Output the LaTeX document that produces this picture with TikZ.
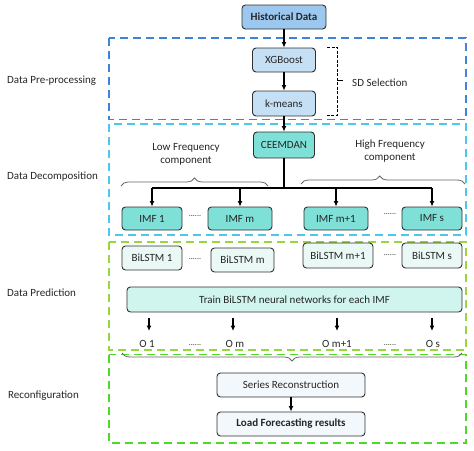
\documentclass[tikz,border=0pt]{standalone}
\usepackage{fontspec}
\setmainfont{Carlito}
\usetikzlibrary{arrows.meta,decorations.pathreplacing}
\definecolor{histblue}{HTML}{9CC8F0}
\definecolor{lightblue}{HTML}{C5E0F5}
\definecolor{teal1}{HTML}{7EE0D6}
\definecolor{bilstm}{HTML}{EAF8F6}
\definecolor{trainc}{HTML}{CFF5EE}
\definecolor{paleb}{HTML}{F2F8FC}
\definecolor{dashblue}{HTML}{3F82DC}
\definecolor{dashcyan}{HTML}{4FC6EE}
\definecolor{dashyg}{HTML}{96D640}
\definecolor{dashgreen}{HTML}{4ED82A}
\definecolor{edge}{HTML}{303030}
\tikzset{
  boxstyle/.style={draw=edge, line width=0.9pt, rounded corners=3.5pt, inner sep=0pt, font=\fontsize{11}{13}\selectfont, text=black!85},
  conn/.style={line width=1.1pt, -{Latex[length=5.5pt,width=5pt]}},
  plainline/.style={line width=1.1pt},
  dashframe/.style={line width=1.5pt, dash pattern=on 8pt off 5pt},
  sidelabel/.style={anchor=west, font=\fontsize{11}{13}\selectfont, text=black!85, inner sep=0pt},
  txt/.style={font=\fontsize{11}{13}\selectfont, text=black!85, inner sep=0pt, align=center},
  dotsty/.style={font=\fontsize{8}{9}\selectfont, text=black!85, inner sep=0pt},
  bracestyle/.style={draw=black!60, line width=0.8pt, decorate},
}
\begin{document}
\begin{tikzpicture}[x=1pt,y=-1pt]
\useasboundingbox (0,0) rectangle (474,450);
% frames
\draw[dashframe, draw=dashblue] (109,38) rectangle (466,119.5);
\draw[dashframe, draw=dashcyan] (109,124) rectangle (466,235);
\draw[dashframe, draw=dashyg] (109,242) rectangle (466,350);
\draw[dashframe, draw=dashgreen] (109,354.5) rectangle (466,443);
% side labels
\node[sidelabel] (l1) at (7,81) {Data Pre-processing};
\node[sidelabel] (l2) at (7,177) {Data Decomposition};
\node[sidelabel] (l3) at (7,293) {Data Prediction};
\node[sidelabel] (l4) at (8,396) {Reconfiguration};
% top
\node[boxstyle, fill=histblue, minimum width=84pt, minimum height=24pt, font=\fontsize{11}{13}\selectfont\bfseries] (hist) at (284,17) {Historical Data};
\node[boxstyle, fill=lightblue, minimum width=63pt, minimum height=24pt] (xgb) at (284,60) {XGBoost};
\node[boxstyle, fill=lightblue, minimum width=63pt, minimum height=25pt] (km) at (284,103.5) {k-means};
\draw[conn] (hist) -- (xgb);
\draw[conn] (xgb) -- (km);
% SD selection bracket
\draw[line width=0.9pt, dash pattern=on 3pt off 1.5pt] (327,47) -- (337,47) -- (337,115) -- (327,115);
\draw[line width=0.9pt] (337,80) -- (343,80);
\node[txt, anchor=west] (sd) at (352,83) {SD Selection};
% decomposition
\node[boxstyle, fill=teal1, minimum width=61pt, minimum height=26pt] (ceem) at (284,145) {CEEMDAN};
\draw[conn] (km) -- (ceem);
\node[boxstyle, fill=teal1, minimum width=60pt, minimum height=23pt] (imf1) at (152,218.5) {IMF 1};
\node[boxstyle, fill=teal1, minimum width=64pt, minimum height=23pt] (imfm) at (240,218.5) {IMF m};
\node[boxstyle, fill=teal1, minimum width=64pt, minimum height=23pt] (imfm1) at (336,218.5) {IMF m+1};
\node[boxstyle, fill=teal1, minimum width=60pt, minimum height=23pt] (imfs) at (432,218.5) {IMF s};
\node[dotsty] (d1) at (195,216) {......};
\node[dotsty] (d2) at (390,214) {......};
\coordinate (jn) at (284,188);
\draw[plainline] (ceem) -- (jn);
\draw[plainline] (imf1.north |- jn) -- (imfs.north |- jn);
\draw[conn] (imf1.north |- jn) -- (imf1.north);
\draw[conn] (imfm.north |- jn) -- (imfm.north);
\draw[conn] (imfm1.north |- jn) -- (imfm1.north);
\draw[conn] (imfs.north |- jn) -- (imfs.north);
\node[txt] (lowf) at (186,154) {Low Frequency\\component};
\node[txt] (highf) at (390,151) {High Frequency\\component};
\draw[bracestyle, decoration={brace, amplitude=8pt, aspect=0.5}] (121,186) -- (268,186);
\draw[bracestyle, decoration={brace, amplitude=8pt, aspect=0.48}] (301,184) -- (465,184);
% prediction
\node[boxstyle, fill=bilstm, minimum width=60pt, minimum height=24pt] (b1) at (152,258) {BiLSTM 1};
\node[boxstyle, fill=bilstm, minimum width=63pt, minimum height=24pt] (bm) at (242.5,260) {BiLSTM m};
\node[boxstyle, fill=bilstm, minimum width=70pt, minimum height=25pt] (bm1) at (338,255.5) {BiLSTM m+1};
\node[boxstyle, fill=bilstm, minimum width=60pt, minimum height=25pt] (bs) at (432,255.5) {BiLSTM s};
\node[dotsty] (d3) at (195,259) {......};
\node[dotsty] (d4) at (390,255) {......};
\node[boxstyle, fill=trainc, minimum width=335pt, minimum height=25pt] (train) at (294.5,299.5) {Train BiLSTM neural networks for each IMF};
\node[txt] (o1) at (147,344) {O 1};
\node[dotsty] (d5) at (195,345) {......};
\node[txt] (om) at (235,344) {O m};
\node[txt] (om1) at (337,344) {O m+1};
\node[dotsty] (d6) at (390,345) {......};
\node[txt] (os) at (433,344) {O s};
\draw[conn] (149,318) -- (149,331);
\draw[conn] (233,318) -- (233,331);
\draw[conn] (337,318) -- (337,331);
\draw[conn] (432,318) -- (432,331);
% reconfiguration
\draw[bracestyle, decoration={brace, mirror, amplitude=8pt, aspect=0.5}] (122,353) -- (462,353);
\node[boxstyle, fill=paleb, minimum width=148pt, minimum height=24pt] (series) at (291,385) {Series Reconstruction};
\node[boxstyle, fill=paleb, minimum width=148pt, minimum height=24pt, font=\fontsize{11}{13}\selectfont\bfseries] (load) at (291,424) {Load Forecasting results};
\draw[conn] (series) -- (load);
\end{tikzpicture}
\end{document}
